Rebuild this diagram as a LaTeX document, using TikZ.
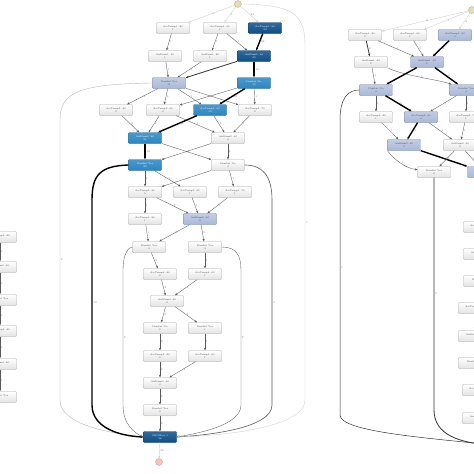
\documentclass[tikz,border=0pt]{standalone}
\usepackage{amsmath}
\usepackage{tikz}
\usetikzlibrary{shapes}
\usetikzlibrary{arrows.meta}
\definecolor{dkblue}{HTML}{0E4F88}
\definecolor{mdblue}{HTML}{2C86C0}
\definecolor{ltblue}{HTML}{A8B8D8}
\newcommand{\nlab}[2]{#1\\#2}
\begin{document}
\begin{tikzpicture}[x=1pt,y=-1pt,
    >={Stealth[length=2.6pt,width=2.2pt]},
    nd/.style={rectangle, draw=gray!70, top color=white, bottom color=gray!22, rounded corners=0.8pt,
      minimum width=33pt, minimum height=11pt, inner sep=0pt, align=center,
      font=\fontsize{2.4}{2.9}\selectfont, text=black!70},
    ndk/.style={nd, draw=dkblue!80!black, top color=dkblue!85, bottom color=dkblue, text=white},
    ndm/.style={nd, draw=mdblue!80!black, top color=mdblue!85, bottom color=mdblue, text=white},
    ndl/.style={nd, draw=ltblue!70!black, top color=ltblue!70, bottom color=ltblue},
    st/.style={circle, draw=gray!60, fill=olive!25, minimum size=7pt, inner sep=0pt},
    en/.style={circle, draw=gray!60, fill=red!25, minimum size=7pt, inner sep=0pt},
    e/.style={->, draw=black!65, line width=0.35pt},
    em/.style={->, draw=black!80, line width=0.8pt},
    et/.style={->, draw=black, line width=1.4pt},
    ef/.style={->, draw=gray!35, line width=0.4pt},
    lbl/.style={midway, right, inner sep=0.8pt, font=\fontsize{2.6}{3}\selectfont, text=black!55}]
\useasboundingbox (0,0) rectangle (474,474);
\fill[white] (0,0) rectangle (474,474);
\clip (0,0) rectangle (474,474);
\node[st] (s) at (238,4) {};
\node[nd] (a1) at (173,28) {\nlab{AirTemp1 :80}{1}};
\node[nd] (a2) at (220,28) {\nlab{AirTemp1 :60}{1}};
\node[ndk] (a3) at (265,28) {\nlab{AirTemp1 :90}{24}};
\node[nd] (b1) at (165,56) {\nlab{AirHum1 :40}{1}};
\node[nd] (b2) at (210,56) {\nlab{AirHum1 :80}{1}};
\node[ndk] (b3) at (254,56) {\nlab{AirHum1 :60}{25}};
\node[ndl] (c1) at (169,83) {\nlab{DimInt Yes}{11}};
\node[ndm] (c2) at (254,83) {\nlab{DimInt No}{19}};
\node[nd] (d1) at (116,110) {\nlab{AirTemp2 :80}{2}};
\node[nd] (d2) at (163,110) {\nlab{AirTemp2 :60}{2}};
\node[ndm] (d3) at (210,110) {\nlab{AirTemp2 :90}{19}};
\node[nd] (d4) at (255,110) {\nlab{AirTemp2 :70}{2}};
\node[ndm] (e1) at (145,138) {\nlab{AirHum2 :60}{21}};
\node[nd] (e2) at (228,138) {\nlab{AirHum2 :40}{4}};
\node[ndm] (f1) at (145,165) {\nlab{DimInt Yes}{22}};
\node[nd] (f2) at (228,165) {\nlab{DimInt No}{4}};
\node[nd] (g1) at (145,192) {\nlab{AirTemp3 :80}{5}};
\node[nd] (g2) at (190,192) {\nlab{AirTemp3 :60}{1}};
\node[nd] (g3) at (235,192) {\nlab{AirTemp3 :70}{1}};
\node[nd] (h1) at (145,219) {\nlab{AirTemp4 :80}{1}};
\node[ndl] (h2) at (200,219) {\nlab{AirHum3 :60}{6}};
\node[nd] (i1) at (149,247) {\nlab{DimInt Yes}{4}};
\node[nd] (i2) at (205,247) {\nlab{DimInt Yes}{3}};
\node[nd] (j1) at (160,274) {\nlab{AirTemp4 :80}{2}};
\node[nd] (j2) at (205,274) {\nlab{AirTemp4 :60}{1}};
\node[nd] (k1) at (167,301) {\nlab{AirHum4 :60}{3}};
\node[nd] (m1) at (160,328) {\nlab{DimInt No}{2}};
\node[nd] (m2) at (205,328) {\nlab{DimInt Yes}{1}};
\node[nd] (n1) at (160,356) {\nlab{AirTemp5 :80}{2}};
\node[nd] (n2) at (205,356) {\nlab{AirTemp5 :60}{1}};
\node[nd] (o1) at (160,383) {\nlab{AirHum5 :60}{3}};
\node[nd] (p1) at (160,410) {\nlab{DimInt Yes}{3}};
\node[ndk] (z1) at (160,437) {\nlab{CEOffers 1}{36}};
\node[en] (x) at (159,462) {};
\draw[ef] (s) -- node[lbl] {1} (a1);
\draw[ef] (s) -- node[lbl] {1} (a2);
\draw[ef] (s) -- node[lbl] {24} (a3);
\draw[e] (a1) -- node[lbl] {1} (b1);
\draw[e] (a2) -- node[lbl] {1} (b2);
\draw[e] (a2) -- node[lbl] {1} (b3);
\draw[et] (a3) -- node[lbl] {28} (b3);
\draw[e] (b1) -- node[lbl] {1} (c1);
\draw[e] (b2) -- node[lbl] {2} (c1);
\draw[em] (b3) -- node[lbl] {7} (c1);
\draw[et] (b3) -- node[lbl] {18} (c2);
\draw[e] (c1) -- node[lbl] {1} (d1);
\draw[e] (c1) -- node[lbl] {4} (d2);
\draw[e] (c1) -- node[lbl] {1} (d3);
\draw[e] (c1) -- node[lbl] {1} (d4);
\draw[e] (c2) -- node[lbl] {2} (d2);
\draw[et] (c2) -- node[lbl] {18} (d3);
\draw[e] (c2) -- node[lbl] {1} (d4);
\draw[e] (d1) -- node[lbl] {2} (e1);
\draw[e] (d2) -- node[lbl] {1} (e1);
\draw[e] (d2) -- node[lbl] {1} (e2);
\draw[et] (d3) -- node[lbl] {18} (e1);
\draw[e] (d3) -- node[lbl] {2} (e2);
\draw[e] (d4) -- node[lbl] {2} (e2);
\draw[et] (e1) -- node[lbl] {18} (f1);
\draw[e] (e1) -- node[lbl] {2} (f2);
\draw[e] (e2) -- node[lbl] {1} (f1);
\draw[e] (e2) -- node[lbl] {2} (f2);
\draw[e] (f1) -- node[lbl] {4} (g1);
\draw[e] (f1) -- node[lbl] {1} (g2);
\draw[e] (f2) -- node[lbl] {1} (g1);
\draw[e] (f2) -- node[lbl] {1} (g3);
\draw[e] (g1) -- node[lbl] {1} (h1);
\draw[e] (g1) -- node[lbl] {4} (h2);
\draw[e] (g2) -- node[lbl] {1} (h2);
\draw[e] (g3) -- node[lbl] {1} (h2);
\draw[e] (h1) -- node[lbl] {1} (i1);
\draw[e] (h2) -- node[lbl] {3} (i1);
\draw[e] (h2) -- node[lbl] {3} (i2);
\draw[e] (i1) -- node[lbl] {2} (j1);
\draw[e] (i2) -- node[lbl] {1} (j2);
\draw[e] (j1) -- node[lbl] {2} (k1);
\draw[e] (j2) -- node[lbl] {1} (k1);
\draw[e] (k1) -- node[lbl] {2} (m1);
\draw[e] (k1) -- node[lbl] {1} (m2);
\draw[e] (m1) -- node[lbl] {2} (n1);
\draw[e] (m2) -- node[lbl] {1} (n2);
\draw[e] (n1) -- node[lbl] {2} (o1);
\draw[e] (n2) -- node[lbl] {1} (o1);
\draw[e] (o1) -- node[lbl] {3} (p1);
\draw[e] (p1) -- node[lbl] {3} (z1);
\draw[ef] (z1) -- node[lbl] {36} (x);
\draw[e, draw=gray!60] (c1.west) .. controls (80,84) and (60,92) .. (60,120) -- node[lbl] {2} (60,400) .. controls (60,425) and (110,433) .. (z1.west);
\draw[et] (f1.west) .. controls (100,166) and (92,175) .. (92,200) -- node[lbl] {16} (92,405) .. controls (92,428) and (120,436) .. (z1.west);
\draw[e] (i1.west) .. controls (128,247) and (123,255) .. (123,270) -- node[lbl] {2} (123,405) .. controls (123,425) and (135,433) .. (z1.west);
\draw[e] (i2.east) .. controls (236,247) and (241,255) .. (241,270) -- node[lbl] {2} (241,405) .. controls (241,425) and (200,433) .. (z1.east);
\draw[e, line width=0.6pt] (f2.east) .. controls (262,165) and (272,175) .. (272,200) -- node[lbl] {4} (272,405) .. controls (272,428) and (210,435) .. (z1.east);
\draw[ef] (s.east) .. controls (290,5) and (305,12) .. (305,45) -- node[lbl] {1} (305,400) .. controls (305,428) and (220,436) .. (z1.east);
\node[nd] (q1) at (0,237) {\nlab{AirTemp3 :80}{1}};
\node[nd] (q2) at (0,267) {\nlab{AirHum3 :60}{1}};
\node[nd] (q3) at (0,300) {\nlab{DimInt Yes}{1}};
\node[nd] (q4) at (0,331) {\nlab{AirTemp4 :80}{1}};
\node[nd] (q5) at (0,364) {\nlab{AirHum4 :60}{1}};
\node[nd] (q6) at (0,397) {\nlab{DimInt Yes}{1}};
\draw[e] (q1) -- node[lbl] {1} (q2);
\draw[e] (q2) -- node[lbl] {1} (q3);
\draw[e] (q3) -- node[lbl] {1} (q4);
\draw[e] (q4) -- node[lbl] {1} (q5);
\draw[e] (q5) -- node[lbl] {1} (q6);
\node[st] (rs) at (472,10) {};
\node[nd] (ra1) at (365,35) {\nlab{AirTemp1 :80}{2}};
\node[nd] (ra2) at (410,35) {\nlab{AirTemp1 :60}{1}};
\node[ndl] (ra3) at (455,35) {\nlab{AirTemp1 :90}{4}};
\node[nd] (rb1) at (371,62) {\nlab{AirHum1 :60}{2}};
\node[ndl] (rb2) at (427,62) {\nlab{AirHum1 :40}{6}};
\node[ndl] (rc1) at (376,90) {\nlab{DimInt No}{4}};
\node[ndl] (rc2) at (466,90) {\nlab{DimInt Yes}{4}};
\node[nd] (rd1) at (376,117) {\nlab{AirTemp2 :80}{1}};
\node[ndl] (rd2) at (421,117) {\nlab{AirTemp2 :60}{4}};
\node[nd] (rd3) at (466,117) {\nlab{AirTemp2 :70}{1}};
\node[ndl] (re1) at (404,145) {\nlab{AirHum2 :60}{5}};
\node[nd] (re2) at (460,145) {\nlab{AirHum2 :40}{2}};
\node[nd] (rf1) at (434,172) {\nlab{DimInt Yes}{2}};
\node[ndl] (rf2) at (484,172) {\nlab{DimInt No}{5}};
\node[nd] (rg1) at (480,227) {\nlab{AirTemp3 :80}{4}};
\node[nd] (rg2) at (480,254) {\nlab{AirHum3 :60}{4}};
\node[nd] (rg3) at (480,281) {\nlab{DimInt Yes}{4}};
\node[nd] (rg4) at (475,308) {\nlab{AirTemp4 :80}{3}};
\node[nd] (rg5) at (475,336) {\nlab{AirHum4 :60}{3}};
\node[nd] (rg6) at (475,363) {\nlab{DimInt Yes}{3}};
\node[nd] (rg7) at (479,390) {\nlab{AirTemp5 :80}{3}};
\node[nd] (rg8) at (479,418) {\nlab{AirHum5 :60}{3}};
\coordinate (rz) at (492,445);
\draw[ef] (rs) -- node[lbl] {2} (ra1);
\draw[ef] (rs) -- node[lbl] {1} (ra2);
\draw[ef] (rs) -- node[lbl] {4} (ra3);
\draw[em] (ra1) -- node[lbl] {2} (rb1);
\draw[e] (ra1) -- node[lbl] {1} (rb2);
\draw[e] (ra2) -- node[lbl] {1} (rb2);
\draw[et] (ra3) -- node[lbl] {4} (rb2);
\draw[e] (rb1) -- node[lbl] {1} (rc1);
\draw[e] (rb1.south east) .. controls (400,75) and (440,80) .. node[lbl] {1} (rc2);
\draw[et] (rb2) -- node[lbl] {3} (rc1);
\draw[et] (rb2) -- node[lbl] {4} (rc2);
\draw[e] (rc1) -- node[lbl] {1} (rd1);
\draw[et] (rc1) -- node[lbl] {2} (rd2);
\draw[e] (rc2) -- node[lbl] {1} (rd2);
\draw[e] (rc2) -- node[lbl] {1} (rd3);
\draw[e] (rd1) -- node[lbl] {1} (re1);
\draw[et] (rd2) -- node[lbl] {3} (re1);
\draw[e] (rd2) -- node[lbl] {1} (re2);
\draw[e] (rd3) -- node[lbl] {1} (re2);
\draw[e] (re1.south west) .. controls (395,160) and (405,168) .. node[lbl] {1} (rf1);
\draw[et] (re1) -- node[lbl] {3} (rf2);
\draw[e] (re2) -- node[lbl] {1} (rf1);
\draw[e] (re2) -- node[lbl] {1} (rf2);
\draw[e] (rf2) -- (rg1);
\draw[e] (rg1) -- (rg2);
\draw[e] (rg2) -- (rg3);
\draw[e] (rg3) -- (rg4);
\draw[e] (rg4) -- (rg5);
\draw[e] (rg5) -- (rg6);
\draw[e] (rg6) -- (rg7);
\draw[e] (rg7) -- (rg8);
\draw[e, draw=black!80, line width=0.5pt] (rc1.west) .. controls (348,90) and (340,98) .. (340,120) -- node[lbl] {1} (340,415) .. controls (340,432) and (430,438) .. (rz);
\draw[em] (rf1) -- node[lbl] {2} (434,410) .. controls (434,435) and (460,443) .. (rz);
\end{tikzpicture}
\end{document}
